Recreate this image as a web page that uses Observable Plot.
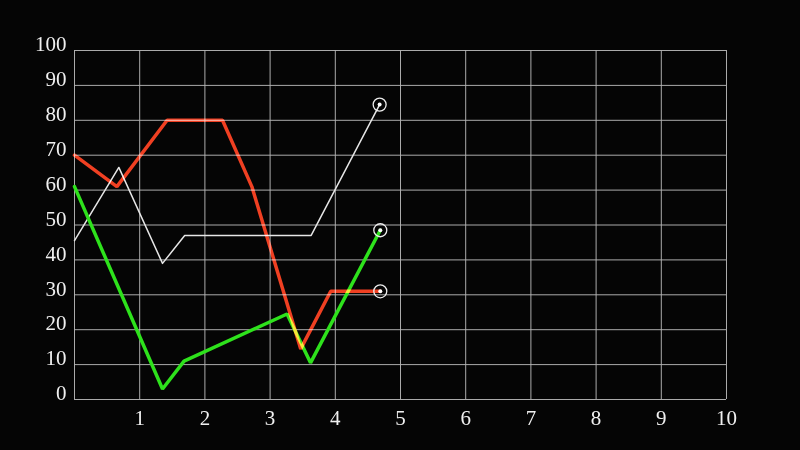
<!DOCTYPE html>
<html>
<head>
<meta charset="utf-8">
<script src="https://cdn.jsdelivr.net/npm/d3@7"></script>
<script src="https://cdn.jsdelivr.net/npm/@observablehq/plot@0.6"></script>
<style>
  html, body { margin: 0; padding: 0; background: #050505; }
  #chart { width: 800px; height: 450px; }
</style>
</head>
<body>
<div id="chart"></div>
<script>
// Data
const xTicks = [1, 2, 3, 4, 5, 6, 7, 8, 9, 10];
const yTicks = [0, 10, 20, 30, 40, 50, 60, 70, 80, 90, 100];
const xGrid = [0, 1, 2, 3, 4, 5, 6, 7, 8, 9, 10];

const whiteX = [0, 0.68, 1.35, 1.69, 3.63, 4.68];
const whiteY = [45.5, 66.5, 39, 47, 47, 84.5];

const greenX = [0, 1.35, 1.68, 3.26, 3.62, 4.69];
const greenY = [61, 3, 11, 24.5, 10.5, 48.5];

const redX = [0, 0.65, 1.42, 2.27, 2.72, 3.47, 3.93, 4.69];
const redY = [70, 61, 80, 80, 61, 14.5, 31, 31];

const toRows = (xs, ys) => xs.map((x, i) => ({x, y: ys[i]}));
const white = toRows(whiteX, whiteY);
const green = toRows(greenX, greenY);
const red = toRows(redX, redY);
const ends = [white, green, red].map(s => s[s.length - 1]);

const chart = Plot.plot({
  width: 800,
  height: 450,
  marginLeft: 74,
  marginRight: 74,
  marginTop: 50,
  marginBottom: 51,
  style: {background: "#050505", color: "#eee", fontFamily: "'Liberation Serif', serif", fontSize: "21px"},
  x: {domain: [0, 10]},
  y: {domain: [0, 100]},
  marks: [
    Plot.gridX(xGrid, {stroke: "#b4b4b4", strokeOpacity: 0.95, strokeWidth: 1}),
    Plot.gridY(yTicks, {stroke: "#b4b4b4", strokeOpacity: 0.95, strokeWidth: 1}),
    Plot.axisX(xTicks, {tickSize: 0, tickPadding: 11, label: null, fontSize: 21, fill: "#f0f0f0", fontFamily: "'Liberation Serif', serif"}),
    Plot.axisY(yTicks, {tickSize: 0, tickPadding: 8, label: null, fontSize: 21, fill: "#f0f0f0", dy: -6, fontFamily: "'Liberation Serif', serif"}),
    Plot.line(white, {x: "x", y: "y", stroke: "#e6e6e6", strokeWidth: 1.5}),
    Plot.line(green, {x: "x", y: "y", stroke: "#2ee21c", strokeWidth: 3.5, strokeLinejoin: "miter"}),
    Plot.line(red, {x: "x", y: "y", stroke: "#f03c1e", strokeWidth: 3.5, strokeLinejoin: "miter", mixBlendMode: "screen"}),
    Plot.dot(ends, {x: "x", y: "y", r: 6.5, stroke: "#eee", strokeWidth: 1.3, fill: "none"}),
    Plot.dot(ends, {x: "x", y: "y", r: 2, fill: "#fff", stroke: "none"})
  ]
});
document.getElementById("chart").appendChild(chart);
</script>
</body>
</html>
